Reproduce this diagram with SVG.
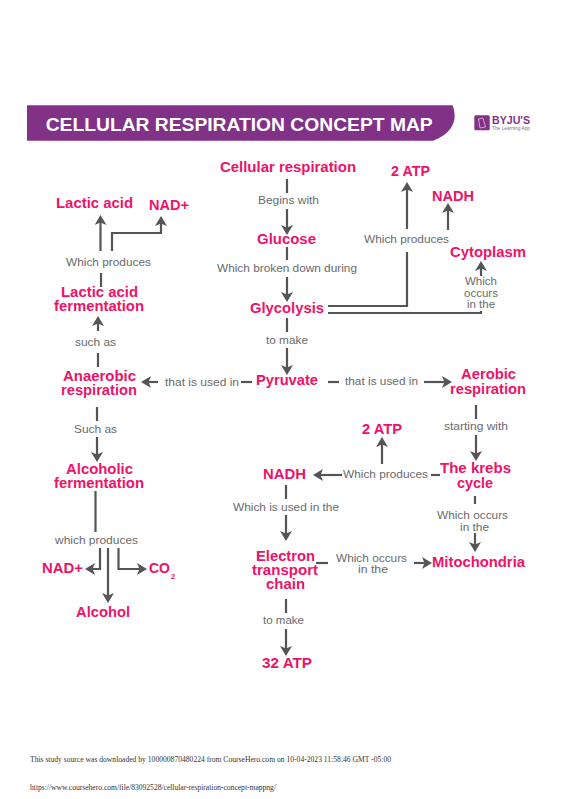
<svg xmlns="http://www.w3.org/2000/svg" width="565" height="799" viewBox="0 0 565 799">
<style>
text{font-family:"Liberation Sans",Arial,sans-serif}
.n{font-size:14.5px;font-weight:700;fill:#ee1268}
.l{font-size:11.5px;fill:#6a6a6c}
.c{fill:none;stroke:#555557;stroke-width:2.2}
.f{font-family:"Liberation Serif","Times New Roman",serif;font-size:8px;fill:#333}
</style>
<defs>
<marker id="a" markerUnits="userSpaceOnUse" markerWidth="11" markerHeight="12" refX="3" refY="6" orient="auto"><path d="M0 0L10 6L0 12L2.500 6Z" fill="#555557"/></marker>
</defs>
<rect width="565" height="799" fill="#fff"/>
<g id="header">
<path d="M27 105.300H452.500C457 116 456 132 433 140.700H27Z" fill="#813287"/>
<text x="45.700" y="131.300" font-size="18.500" font-weight="700" fill="#fff" textLength="387" lengthAdjust="spacingAndGlyphs">CELLULAR RESPIRATION CONCEPT MAP</text>
</g>
<g id="logo">
<rect x="474.300" y="115.300" width="15.400" height="15" rx="1.500" fill="#813287"/>
<path d="M478.500 119L483 118L485.500 127L480 128Z" fill="none" stroke="#d9c3dc" stroke-width=".8"/>
<text x="492" y="124.300" font-size="11" font-weight="700" fill="#813287" textLength="38" lengthAdjust="spacingAndGlyphs">BYJU'S</text>
<text x="492" y="130" font-size="4.500" fill="#8a6a90" textLength="38" lengthAdjust="spacingAndGlyphs">The Learning App</text>
</g>
<g id="connectors">
<path class="c" d="M100.500 251V222" marker-end="url(#a)"/>
<path class="c" d="M112 251V233H161V223" marker-end="url(#a)"/>
<path class="c" d="M101 273V287"/>
<path class="c" d="M98 331V323" marker-end="url(#a)"/>
<path class="c" d="M98 353V367"/>
<path class="c" d="M158 382H148" marker-end="url(#a)"/>
<path class="c" d="M241 382H252"/>
<path class="c" d="M287 179V193"/>
<path class="c" d="M287 209V228" marker-end="url(#a)"/>
<path class="c" d="M287 247V260"/>
<path class="c" d="M287 277V295" marker-end="url(#a)"/>
<path class="c" d="M287 318V332"/>
<path class="c" d="M287 348V368" marker-end="url(#a)"/>
<path class="c" d="M328 382H339"/>
<path class="c" d="M424 382H445" marker-end="url(#a)"/>
<path class="c" d="M407 229V189" marker-end="url(#a)"/>
<path class="c" d="M448 230V210" marker-end="url(#a)"/>
<path class="c" d="M407 252V306H328"/>
<path class="c" d="M481 276V268" marker-end="url(#a)"/>
<path class="c" d="M481 311V313H328"/>
<path class="c" d="M97 407V421"/>
<path class="c" d="M97 437V455" marker-end="url(#a)"/>
<path class="c" d="M95.500 491V532"/>
<path class="c" d="M100 548V569H92" marker-end="url(#a)"/>
<path class="c" d="M108 548V596" marker-end="url(#a)"/>
<path class="c" d="M118.500 548V569H140" marker-end="url(#a)"/>
<path class="c" d="M476 405V419"/>
<path class="c" d="M476 435V454" marker-end="url(#a)"/>
<path class="c" d="M382 464V444" marker-end="url(#a)"/>
<path class="c" d="M342 475H320" marker-end="url(#a)"/>
<path class="c" d="M431 475H440"/>
<path class="c" d="M475 496V504"/>
<path class="c" d="M475 533V545" marker-end="url(#a)"/>
<path class="c" d="M286 485V499"/>
<path class="c" d="M286 515V534" marker-end="url(#a)"/>
<path class="c" d="M316 563H328"/>
<path class="c" d="M414 563H425" marker-end="url(#a)"/>
<path class="c" d="M286 599V613"/>
<path class="c" d="M286 629V649" marker-end="url(#a)"/>
</g>
<g id="n-cellular"><text class="n" x="220" y="172" textLength="136" lengthAdjust="spacingAndGlyphs">Cellular respiration</text></g>
<g id="n-glucose"><text class="n" x="257" y="244" textLength="59" lengthAdjust="spacingAndGlyphs">Glucose</text></g>
<g id="n-glycolysis"><text class="n" x="250" y="313" textLength="74" lengthAdjust="spacingAndGlyphs">Glycolysis</text></g>
<g id="n-pyruvate"><text class="n" x="256" y="385" textLength="62" lengthAdjust="spacingAndGlyphs">Pyruvate</text></g>
<g id="n-lactic"><text class="n" x="56" y="208" textLength="77" lengthAdjust="spacingAndGlyphs">Lactic acid</text></g>
<g id="n-nad1"><text class="n" x="149" y="210" textLength="40" lengthAdjust="spacingAndGlyphs">NAD+</text></g>
<g id="n-lacticf"><text class="n" x="61" y="297" textLength="77" lengthAdjust="spacingAndGlyphs">Lactic acid</text><text class="n" x="54" y="311" textLength="90" lengthAdjust="spacingAndGlyphs">fermentation</text></g>
<g id="n-anaerobic"><text class="n" x="63" y="381" textLength="73" lengthAdjust="spacingAndGlyphs">Anaerobic</text><text class="n" x="61" y="395" textLength="76" lengthAdjust="spacingAndGlyphs">respiration</text></g>
<g id="n-alcoholic"><text class="n" x="66" y="474" textLength="67" lengthAdjust="spacingAndGlyphs">Alcoholic</text><text class="n" x="54" y="488" textLength="90" lengthAdjust="spacingAndGlyphs">fermentation</text></g>
<g id="n-nad2"><text class="n" x="42" y="573" textLength="41" lengthAdjust="spacingAndGlyphs">NAD+</text></g>
<g id="n-co2"><text class="n" x="149" y="573" textLength="21" lengthAdjust="spacingAndGlyphs">CO</text><text x="171" y="579" font-size="7.500" font-weight="700" fill="#ee1268">2</text></g>
<g id="n-alcohol"><text class="n" x="76" y="617" textLength="54" lengthAdjust="spacingAndGlyphs">Alcohol</text></g>
<g id="n-atp1"><text class="n" x="391" y="176" textLength="39" lengthAdjust="spacingAndGlyphs">2 ATP</text></g>
<g id="n-nadh1"><text class="n" x="432" y="201" textLength="42" lengthAdjust="spacingAndGlyphs">NADH</text></g>
<g id="n-cytoplasm"><text class="n" x="450" y="257" textLength="76" lengthAdjust="spacingAndGlyphs">Cytoplasm</text></g>
<g id="n-aerobic"><text class="n" x="461" y="379" textLength="55" lengthAdjust="spacingAndGlyphs">Aerobic</text><text class="n" x="450" y="394" textLength="76" lengthAdjust="spacingAndGlyphs">respiration</text></g>
<g id="n-atp2"><text class="n" x="362" y="434" textLength="40" lengthAdjust="spacingAndGlyphs">2 ATP</text></g>
<g id="n-krebs"><text class="n" x="440" y="473" textLength="71" lengthAdjust="spacingAndGlyphs">The krebs</text><text class="n" x="457" y="488" textLength="36" lengthAdjust="spacingAndGlyphs">cycle</text></g>
<g id="n-nadh2"><text class="n" x="263" y="479" textLength="43" lengthAdjust="spacingAndGlyphs">NADH</text></g>
<g id="n-etc"><text class="n" x="256" y="561" textLength="59" lengthAdjust="spacingAndGlyphs">Electron</text><text class="n" x="252" y="575" textLength="66" lengthAdjust="spacingAndGlyphs">transport</text><text class="n" x="266" y="589" textLength="39" lengthAdjust="spacingAndGlyphs">chain</text></g>
<g id="n-mito"><text class="n" x="432" y="567" textLength="93" lengthAdjust="spacingAndGlyphs">Mitochondria</text></g>
<g id="n-atp32"><text class="n" x="262" y="668" textLength="50" lengthAdjust="spacingAndGlyphs">32 ATP</text></g>
<g id="labels">
<text class="l" x="258" y="204" textLength="61" lengthAdjust="spacingAndGlyphs">Begins with</text>
<text class="l" x="217" y="272" textLength="140" lengthAdjust="spacingAndGlyphs">Which broken down during</text>
<text class="l" x="266" y="344" textLength="42" lengthAdjust="spacingAndGlyphs">to make</text>
<text class="l" x="66" y="266" textLength="85" lengthAdjust="spacingAndGlyphs">Which produces</text>
<text class="l" x="75" y="346" textLength="41" lengthAdjust="spacingAndGlyphs">such as</text>
<text class="l" x="165" y="386" textLength="74" lengthAdjust="spacingAndGlyphs">that is used in</text>
<text class="l" x="345" y="385" textLength="73" lengthAdjust="spacingAndGlyphs">that is used in</text>
<text class="l" x="364" y="243" textLength="85" lengthAdjust="spacingAndGlyphs">Which produces</text>
<text class="l" x="481" y="285" text-anchor="middle">Which</text>
<text class="l" x="481" y="297" text-anchor="middle">occurs</text>
<text class="l" x="481" y="308" text-anchor="middle">in the</text>
<text class="l" x="74" y="433" textLength="43" lengthAdjust="spacingAndGlyphs">Such as</text>
<text class="l" x="55" y="544" textLength="83" lengthAdjust="spacingAndGlyphs">which produces</text>
<text class="l" x="444" y="430" textLength="64" lengthAdjust="spacingAndGlyphs">starting with</text>
<text class="l" x="343" y="478" textLength="85" lengthAdjust="spacingAndGlyphs">Which produces</text>
<text class="l" x="437" y="519" textLength="71" lengthAdjust="spacingAndGlyphs">Which occurs</text>
<text class="l" x="460" y="531" textLength="29" lengthAdjust="spacingAndGlyphs">in the</text>
<text class="l" x="233" y="511" textLength="106" lengthAdjust="spacingAndGlyphs">Which is used in the</text>
<text class="l" x="336" y="562" textLength="71" lengthAdjust="spacingAndGlyphs">Which occurs</text>
<text class="l" x="358" y="573" textLength="30" lengthAdjust="spacingAndGlyphs">in the</text>
<text class="l" x="263" y="624" textLength="41" lengthAdjust="spacingAndGlyphs">to make</text>
</g>
<g id="footer">
<text class="f" x="30" y="762" textLength="361" lengthAdjust="spacingAndGlyphs">This study source was downloaded by 100000870480224 from CourseHero.com on 10-04-2023 11:58:46 GMT -05:00</text>
<text class="f" x="30" y="790" textLength="246" lengthAdjust="spacingAndGlyphs">https://www.coursehero.com/file/83092528/cellular-respiration-concept-mappng/</text>
</g>
</svg>
